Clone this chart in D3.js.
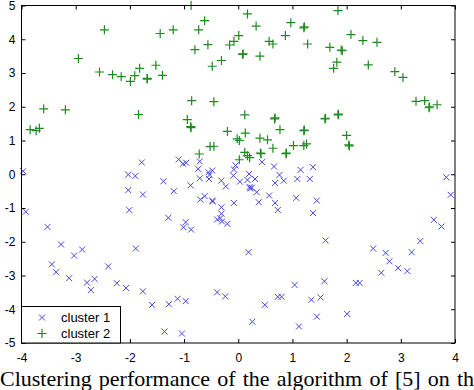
<!DOCTYPE html>
<html>
<head>
<meta charset="utf-8">
<script src="https://cdn.jsdelivr.net/npm/d3@7"></script>
<style>
  html, body { margin: 0; padding: 0; background: #fff; }
  svg { display: block; }
</style>
</head>
<body>
<div id="chart"></div>
<script>
// ---- data ----
const xTicks = [-4, -3, -2, -1, 0, 1, 2, 3, 4];
const yTicks = [-5, -4, -3, -2, -1, 0, 1, 2, 3, 4, 5];
const legendLabels = ["cluster 1", "cluster 2"];
const captionText = "Clustering performance of the algorithm of [5] on the";

// cluster 1 (blue x)
const cluster1 = [
  [-3.97, 0.09], [-3.92, -1.11], [-3.52, -1.56], [-3.27, -2.08], [-3.44, -2.67],
  [-3.36, -2.90], [-3.03, -2.41], [-2.88, -2.23], [-3.12, -3.08], [-2.79, -3.21],
  [-2.65, -3.10], [-2.72, -3.43], [-2.40, -2.73], [-2.24, -3.23], [-2.07, -3.37],
  [-1.76, -3.47], [-1.59, -3.87], [-1.28, -3.85], [-1.12, -3.69], [-0.97, -3.76],
  [-1.36, -4.66], [-1.04, -4.72], [-1.78, 0.35], [-2.03, -0.01], [-1.90, -0.05],
  [-2.03, -0.47], [-1.76, -0.60], [-2.01, -1.06], [-1.89, -2.20], [-1.38, -0.21],
  [-1.19, -0.50], [-1.29, -1.29], [-0.97, -1.42], [-1.01, -1.57], [-0.87, -1.64],
  [-0.88, -0.33], [-1.10, 0.44], [-1.02, 0.31], [-0.96, 0.34], [-0.71, 0.38],
  [-0.74, 0.16], [-0.71, -0.12], [-0.54, -0.14], [-0.53, -0.02], [-0.55, 0.06],
  [-0.48, 0.11], [-0.70, -0.75], [-0.62, -0.65], [-0.48, -0.78], [-0.47, -0.81],
  [-0.31, -0.98], [-0.08, -0.85], [-0.31, -1.17], [-0.33, -1.30], [-0.39, -1.34],
  [-0.30, -1.40], [-0.20, -1.47], [-0.31, -0.19], [-0.23, -0.36], [-0.05, 0.26],
  [-0.08, 0.14], [-0.09, -0.04], [0.03, -0.22], [0.20, 0.01], [0.17, -0.17],
  [0.31, -0.14], [0.21, -0.38], [0.25, -0.40], [0.22, -0.42], [0.34, -0.53],
  [0.44, 0.36], [0.66, 0.23], [0.76, -0.02], [0.84, -0.19], [0.68, -0.26],
  [1.09, -0.14], [1.15, 0.13], [1.32, -0.14], [1.38, 0.21], [0.57, -0.63],
  [0.38, -0.83], [0.68, -0.85], [0.73, -1.06], [1.07, -0.70], [1.45, -0.78],
  [1.38, -1.15], [1.61, -1.96], [0.19, -2.31], [2.49, -2.20], [2.72, -2.33],
  [2.79, -2.58], [2.64, -2.92], [2.95, -2.78], [3.12, -2.87], [3.20, -2.31],
  [3.36, -1.98], [3.61, -1.35], [3.75, -1.55], [3.92, -0.61], [3.84, -0.09],
  [1.59, -3.17], [1.04, -3.28], [0.73, -3.63], [0.80, -3.63], [0.49, -3.87],
  [1.35, -3.72], [1.52, -3.65], [1.45, -4.22], [1.12, -4.51], [0.26, -4.37],
  [2.01, -4.14], [2.17, -3.22], [2.24, -3.22], [-0.39, -3.50], [-0.24, -3.62]
];

// cluster 2 (green +)
const cluster2 = [
  [-0.87, 5.0], [1.84, 4.85], [-0.62, 4.55], [-0.73, 4.28], [-1.20, 4.28],
  [-1.44, 4.17], [-2.47, 4.28], [-2.95, 3.43], [-2.56, 3.03], [-2.32, 2.95],
  [-2.16, 2.89], [-1.99, 2.75], [-1.91, 2.92], [-1.82, 3.14], [-1.68, 2.84],
  [-1.68, 2.82], [-1.52, 3.23], [-1.40, 2.93], [-0.80, 3.69], [-0.56, 3.84],
  [-0.48, 3.20], [-0.31, 3.37], [-0.16, 3.83], [-0.08, 3.94], [0.01, 4.11],
  [0.17, 4.75], [0.33, 4.39], [0.09, 3.57], [0.08, 3.55], [0.40, 3.50],
  [0.57, 3.94], [0.64, 3.86], [0.87, 4.11], [0.97, 4.49], [1.21, 4.34],
  [1.22, 4.37], [1.28, 3.86], [1.69, 3.76], [1.92, 3.66], [1.90, 3.68],
  [2.08, 4.14], [2.30, 3.96], [2.56, 3.91], [1.82, 3.32], [1.76, 3.14],
  [2.40, 3.24], [2.89, 3.04], [3.04, 2.87], [3.28, 2.16], [3.44, 2.18],
  [3.52, 1.97], [3.53, 2.00], [3.67, 2.06], [-3.59, 1.94], [-3.19, 1.91],
  [-3.84, 1.32], [-3.73, 1.29], [-3.67, 1.36], [-1.84, 1.77], [-0.86, 2.18],
  [-0.45, 2.15], [-0.94, 1.62], [-0.88, 1.41], [-0.87, 1.38], [-0.20, 1.27],
  [-0.02, 1.05], [0.02, 1.00], [-0.72, 0.60], [-0.52, 0.82], [-0.45, 0.83],
  [0.02, 0.43], [0.12, 0.65], [0.17, 0.55], [0.21, 0.49], [0.41, 0.63],
  [0.42, 0.61], [0.89, 0.63], [0.88, 0.61], [0.12, 1.76], [0.67, 1.64],
  [0.68, 1.67], [0.77, 1.32], [0.13, 1.22], [0.40, 1.07], [0.54, 1.02],
  [0.64, 0.77], [1.02, 0.85], [1.21, 0.85], [1.26, 0.90], [1.21, 1.29],
  [1.22, 1.31], [1.60, 1.64], [1.61, 1.66], [1.84, 1.76], [1.85, 1.78],
  [2.00, 1.15], [2.04, 0.87], [2.05, 0.84]
];

// ---- layout ----
const W = 474, H = 390;
const plot = { left: 21.5, right: 455, top: 5.5, bottom: 343 };
const blue = "#4646e6";
const green = "#1f8a1f";
const sansFont = "'Liberation Sans', Arial, sans-serif";

const svg = d3.select("#chart").append("svg")
  .attr("width", W)
  .attr("height", H);

const x = d3.scaleLinear().domain([-4, 4]).range([plot.left, plot.right]);
const y = d3.scaleLinear().domain([-5, 5]).range([plot.bottom, plot.top]);

// marker shapes
function drawCross(g, cx, cy, r) {
  g.append("path")
    .attr("d", `M${cx - r},${cy - r}L${cx + r},${cy + r}M${cx - r},${cy + r}L${cx + r},${cy - r}`)
    .attr("stroke", blue)
    .attr("stroke-width", 1)
    .attr("fill", "none");
}
function drawPlus(g, cx, cy, r) {
  g.append("path")
    .attr("d", `M${cx - r},${cy}L${cx + r},${cy}M${cx},${cy - r}L${cx},${cy + r}`)
    .attr("stroke", green)
    .attr("stroke-width", 1.2)
    .attr("fill", "none");
}

// ---- axes (MATLAB style: ticks inside, box all round) ----
function styleAxis(g) {
  g.select(".domain").remove();
  g.selectAll(".tick line").attr("stroke", "#000");
  g.selectAll("text")
    .attr("fill", "#000")
    .style("font-family", sansFont)
    .style("font-size", "12px");
}

svg.append("g")
  .attr("transform", `translate(0,${plot.bottom})`)
  .call(d3.axisBottom(x).tickValues(xTicks).tickSize(-4).tickPadding(10).tickFormat(d3.format("d")))
  .call(styleAxis);

svg.append("g")
  .attr("transform", `translate(0,${plot.top})`)
  .call(d3.axisTop(x).tickValues(xTicks).tickSize(-4).tickFormat(""))
  .call(styleAxis);

svg.append("g")
  .attr("transform", `translate(${plot.left},0)`)
  .call(d3.axisLeft(y).tickValues(yTicks).tickSize(-4).tickPadding(6).tickFormat(d3.format("d")))
  .call(styleAxis);

svg.append("g")
  .attr("transform", `translate(${plot.right},0)`)
  .call(d3.axisRight(y).tickValues(yTicks).tickSize(-4).tickFormat(""))
  .call(styleAxis);

// fix minus signs to plain hyphen like the original
svg.selectAll(".tick text").text(function () {
  return this.textContent.replace("\u2212", "-");
});

// ---- points ----
const pts = svg.append("g");
cluster1.forEach(d => drawCross(pts, x(d[0]), y(d[1]), 3));
cluster2.forEach(d => drawPlus(pts, x(d[0]), y(d[1]), 4.5));

// box
svg.append("rect")
  .attr("x", plot.left)
  .attr("y", plot.top)
  .attr("width", plot.right - plot.left)
  .attr("height", plot.bottom - plot.top)
  .attr("fill", "none")
  .attr("stroke", "#000")
  .attr("stroke-width", 1);

// ---- legend ----
const legend = svg.append("g");
legend.append("rect")
  .attr("x", plot.left)
  .attr("y", 306.5)
  .attr("width", 99)
  .attr("height", plot.bottom - 306.5)
  .attr("fill", "#fff")
  .attr("stroke", "#000")
  .attr("stroke-width", 1);

legendLabels.forEach((label, i) => {
  const ly = 317.5 + i * 16;
  if (i === 0) drawCross(legend, 42, ly, 3);
  else drawPlus(legend, 42, ly, 4.5);
  legend.append("text")
    .attr("x", 61)
    .attr("y", ly)
    .attr("dy", "0.35em")
    .style("font-family", sansFont)
    .style("font-size", "13px")
    .attr("fill", "#000")
    .text(label);
});

// ---- caption (justified, runs off the right edge) ----
const caption = svg.append("text")
  .attr("x", 0)
  .attr("y", 386)
  .style("font-family", "'Liberation Serif', 'Times New Roman', serif")
  .style("font-size", "22px")
  .attr("fill", "#000")
  .text(captionText);

// spread the words so that "th" of the last word lands at the right edge
const words = captionText.split(" ");
const probe = svg.append("text")
  .style("font-family", "'Liberation Serif', 'Times New Roman', serif")
  .style("font-size", "22px")
  .text(words.slice(0, -1).join(" ") + " th");
const natural = probe.node().getComputedTextLength();
probe.remove();
const gap = (W - natural) / (words.length - 1);
caption.style("word-spacing", `${gap}px`);
</script>
</body>
</html>
